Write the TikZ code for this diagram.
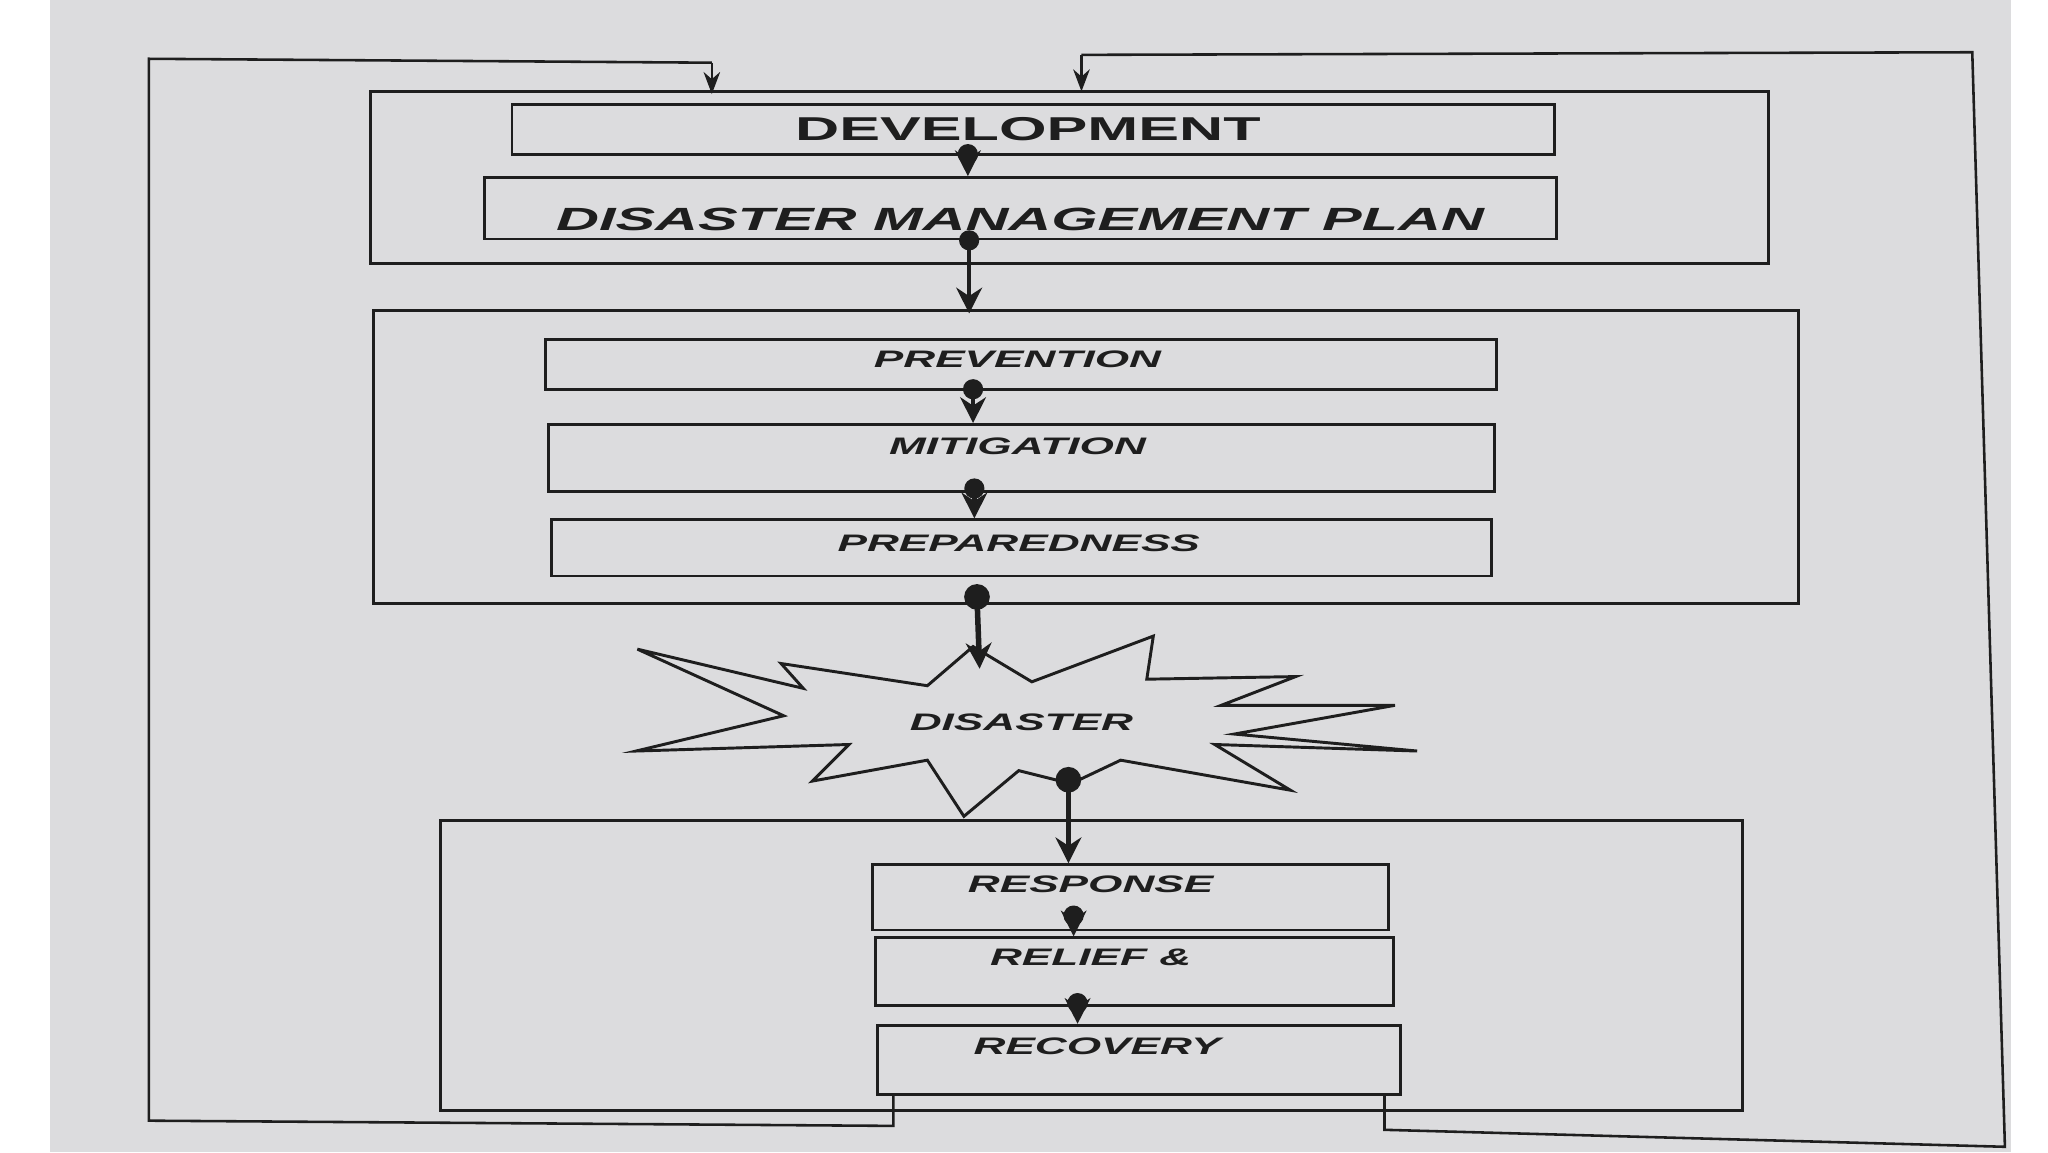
\documentclass[tikz,border=0pt]{standalone}
\usepackage{fontspec}
\setmainfont{Liberation Sans}
\usetikzlibrary{arrows.meta}
\definecolor{paper}{HTML}{DCDCDE}
\definecolor{ink}{HTML}{1E1E1E}
\newcommand{\wide}[1]{\scalebox{1.85}[1]{#1}}
\tikzset{
 box/.style={draw=ink,line width=3.2pt},
 lbl/.style={font=\fontsize{26}{28}\selectfont\bfseries\itshape,text=ink},
 flow/.style={draw=ink,line width=5pt,-{Stealth[length=28pt,width=28pt]}},
 fb/.style={draw=ink,line width=2.8pt},
 fbarrow/.style={draw=ink,line width=2.8pt,-{Stealth[length=24pt,width=18pt]}},
 dot/.style={circle,fill=ink,inner sep=0pt,minimum size=22pt}
}
\begin{document}
\begin{tikzpicture}[x=0.05cm,y=-0.05cm]
\useasboundingbox (0,0) rectangle (1568,882);
\fill[white] (0,0) rectangle (1568,882);
\fill[paper] (38,0) rectangle (1540,882);
% outer boxes
\draw[box] (284,70) rectangle (1354,202);
\draw[box] (286,238) rectangle (1377,462);
\draw[box] (337,628) rectangle (1334,850);
% inner boxes
\node[box,minimum width=798*0.05cm,minimum height=38*0.05cm,inner sep=0pt] (dev) at (791,99) {};
\node[font=\fontsize{36}{38}\selectfont\bfseries,text=ink] at (787,99) {\wide{DEVELOPMENT}};
\node[box,minimum width=821*0.05cm,minimum height=47*0.05cm,inner sep=0pt] (dmp) at (781.5,159.5) {};
\node[lbl,font=\fontsize{35}{37}\selectfont\bfseries\itshape] at (781,168) {\wide{DISASTER MANAGEMENT PLAN}};
\node[box,minimum width=728*0.05cm,minimum height=38*0.05cm,inner sep=0pt] (prev) at (782,279) {};
\node[lbl] at (779,275) {\wide{PREVENTION}};
\node[box,minimum width=724*0.05cm,minimum height=51*0.05cm,inner sep=0pt] (mit) at (782,350.5) {};
\node[lbl] at (779,342) {\wide{MITIGATION}};
\node[box,minimum width=720*0.05cm,minimum height=43*0.05cm,inner sep=0pt] (prep) at (782,419.5) {};
\node[lbl] at (780,416) {\wide{PREPAREDNESS}};
\node[box,minimum width=395*0.05cm,minimum height=50*0.05cm,inner sep=0pt] (resp) at (865.5,687) {};
\node[lbl] at (835,677) {\wide{RESPONSE}};
\node[box,minimum width=397*0.05cm,minimum height=52*0.05cm,inner sep=0pt] (rel) at (868.5,744) {};
\node[lbl] at (835,733) {\wide{RELIEF \&}};
\node[box,minimum width=400*0.05cm,minimum height=53*0.05cm,inner sep=0pt] (rec) at (872,811.5) {};
\node[lbl] at (840,801) {\wide{RECOVERY}};
% star
\draw[box,fill=paper] (488,497) -- (615,527) -- (598,508) -- (710,525) -- (745,495) -- (790,522) -- (883,487) -- (878,520) -- (992,518) -- (935,540) -- (1068,540) -- (945,562) -- (1085,575) -- (930,570) -- (988,605) -- (858,582) -- (820,600) -- (780,590) -- (738,625) -- (710,582) -- (622,598) -- (650,570) -- (487,575) -- (600,548) -- cycle;
\node[lbl] (dis) at (782,553) {\wide{DISASTER}};
\coordinate (startop) at (750,512);
% flow arrows
\node[dot] (d1) at (741,118) {};
\draw[flow] (d1.center) -- (dmp.north -| d1);
\node[dot] (d2) at (742,184) {};
\draw[flow] (d2.center) -- (742,240);
\node[dot] (d3) at (745,298) {};
\draw[flow] (d3.center) -- (mit.north -| d3);
\node[dot] (d4) at (746,374) {};
\draw[flow] (d4.center) -- (prep.north -| d4);
\node[dot,minimum size=28pt] (d5) at (748,457) {};
\draw[flow,line width=6pt] (d5.center) -- (startop);
\node[dot,minimum size=28pt] (d6) at (818,597) {};
\draw[flow,line width=6pt] (d6.center) -- (resp.north -| d6);
\node[dot] (d7) at (822,701) {};
\draw[flow,line width=3.5pt] (d7.center) -- (rel.north -| d7);
\node[dot] (d8) at (825,768) {};
\draw[flow,line width=3.5pt] (d8.center) -- (rec.north -| d8);
% feedback loops
\coordinate (la) at (545,72);
\coordinate (ra) at (828,70);
\draw[fb] (684,837) -- (684,862) -- (114,858) -- (114,45) -- (545,48);
\draw[fbarrow] (545,48) -- (la);
\draw[fb] (1060,837) -- (1060,865) -- (1535,878) -- (1510,40) -- (828,42);
\draw[fbarrow] (828,42) -- (ra);
\end{tikzpicture}
\end{document}
